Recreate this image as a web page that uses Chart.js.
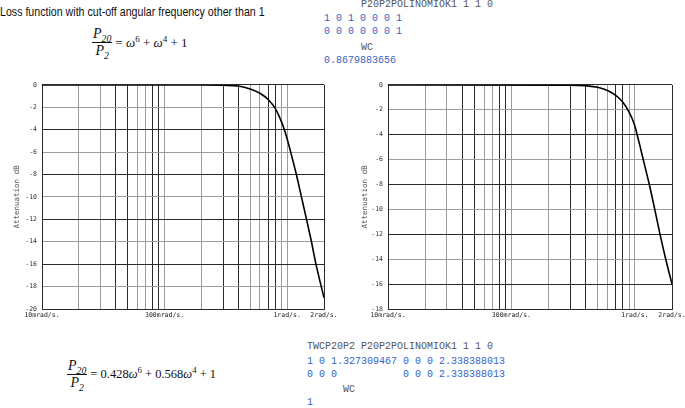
<!DOCTYPE html>
<html>
<head>
<meta charset="utf-8">
<script src="https://cdn.jsdelivr.net/npm/chart.js@4.4.1/dist/chart.umd.min.js"></script>
<style>
  html, body { margin: 0; padding: 0; background: #fff; }
  body { width: 685px; height: 408px; position: relative; overflow: hidden; }
  .abs { position: absolute; white-space: pre; }
  .title { font-family: "Liberation Sans", Arial, sans-serif; font-size: 13px; color: #111; left: 0; top: 4px; transform-origin: 0 0; }
  .mono { font-family: "Liberation Mono", "DejaVu Sans Mono", monospace; font-size: 10px; line-height: 12px; }
  .gray { color: #555; }
  .blue { color: #3a62c4; }
  .eq { font-family: "Liberation Serif", "Times New Roman", serif; font-size: 13px; color: #111; display: flex; align-items: center; white-space: nowrap; }
  .frac { display: inline-flex; flex-direction: column; align-items: center; font-style: italic; margin-right: 3px; font-size: 14px; }
  .frac .num { border-bottom: 1px solid #111; padding: 0 1px 1px; line-height: 14px; }
  .frac .den { padding-top: 1px; line-height: 14px; }
  sub, sup { font-size: 0.7em; line-height: 0; }
  .chart { position: absolute; top: 76px; width: 342px; height: 250px; }
</style>
</head>
<body>
<div class="abs title" id="title">Loss function with cut-off angular frequency other than 1</div>

<div class="abs eq" style="left:92px; top:27px;">
  <span class="frac"><span class="num">P<sub>20</sub></span><span class="den">P<sub>2</sub></span></span>
  <span>= <i>ω</i><sup>6</sup> + <i>ω</i><sup>4</sup> + 1</span>
</div>

<div class="abs mono gray" style="left:361px; top:-1px;">P20P2POLINOMIOK1 1 1 0</div>
<div class="abs mono blue" style="left:324px; top:13px;">1 0 1 0 0 0 1</div>
<div class="abs mono blue" style="left:324px; top:26px;">0 0 0 0 0 0 1</div>
<div class="abs mono gray" style="left:361px; top:42px;">WC</div>
<div class="abs mono blue" style="left:324px; top:55px;">0.8679883656</div>

<div class="chart" style="left:0;"><canvas id="leftChart"></canvas></div>
<div class="chart" style="left:343px;"><canvas id="rightChart"></canvas></div>

<div class="abs eq" style="left:67px; top:359px; font-size:12.5px;">
  <span class="frac"><span class="num">P<sub>20</sub></span><span class="den">P<sub>2</sub></span></span>
  <span>= 0.428<i>ω</i><sup>6</sup> + 0.568<i>ω</i><sup>4</sup> + 1</span>
</div>

<div class="abs mono gray" style="left:307px; top:341px;">TWCP20P2 P20P2POLINOMIOK1 1 1 0</div>
<div class="abs mono blue" style="left:307px; top:356px;">1 0 1.327309467 0 0 0 2.338388013</div>
<div class="abs mono blue" style="left:307px; top:369px;">0 0 0           0 0 0 2.338388013</div>
<div class="abs mono gray" style="left:307px; top:384px;">      WC</div>
<div class="abs mono blue" style="left:307px; top:397px;">1</div>

<script>
// ==============================
// DATA
// ==============================
const gridTicks = [0.01, 0.02, 0.03, 0.04, 0.05, 0.06, 0.07, 0.08, 0.09,
  0.1, 0.2, 0.3, 0.4, 0.5, 0.6, 0.7, 0.8, 0.9, 1, 2];
const labelAt = [0.01, 0.1, 1, 2];
const labelText = ["10mrad/s.", "300mrad/s.", "1rad/s.", "2rad/s."];

// left: P20/P2 = w^6 + w^4 + 1
const leftOmega = [0.01, 0.2, 0.3, 0.4, 0.5, 0.6, 0.7, 0.8, 0.9, 0.95, 1.0, 1.07, 1.19, 1.31, 1.44, 1.58, 1.72, 1.9, 2.0];
const leftDb = [0, 0, -0.03, -0.1, -0.36, -0.74, -1.3, -2.1, -3.3, -4.0, -4.8, -6, -8, -10, -12, -14, -16, -18, -19];

// right: P20/P2 = 0.428w^6 + 0.568w^4 + 1
const rightOmega = [0.01, 0.3, 0.4, 0.5, 0.6, 0.7, 0.8, 0.9, 0.95, 1.0, 1.05, 1.1, 1.17, 1.31, 1.45, 1.6, 1.78, 2.0];
const rightDb = [0, -0.02, -0.07, -0.19, -0.45, -0.85, -1.4, -2.2, -2.7, -3.3, -4.1, -4.9, -6, -8, -10, -12, -14, -16];

const DARK = "#2a2a2a";
const LIGHT = "#9d9d9d";

// titolo stretto come nell'originale (font narrow non disponibile)
const titleEl = document.getElementById("title");
titleEl.style.transform = "scaleX(" + (265 / titleEl.offsetWidth) + ")";

function makeChart(id, omega, db, yMin, axisWidth, padRight, titlePad) {
  const canvas = document.getElementById(id);
  const ctx = canvas.getContext("2d");

  return new Chart(ctx, {
    type: "line",
    data: {
      datasets: [{
        data: omega.map((w, i) => ({ x: w, y: db[i] })),
        borderColor: "#000",
        borderWidth: 1.6,
        pointRadius: 0,
        cubicInterpolationMode: "monotone",
        fill: false
      }]
    },
    options: {
      responsive: true,
      maintainAspectRatio: false,
      animation: false,
      layout: { padding: { top: 8, right: padRight, left: 0, bottom: 0 } },
      plugins: { legend: { display: false }, tooltip: { enabled: false } },
      scales: {
        x: {
          type: "logarithmic",
          min: 0.01,
          max: 2,
          afterBuildTicks: (scale) => { scale.ticks = gridTicks.map(v => ({ value: v })); },
          afterFit: (scale) => {
            scale.height = 17;
            scale.paddingLeft = 0;
            scale.paddingRight = 0;
          },
          border: { color: DARK },
          grid: {
            drawTicks: false,
            color: (c) => (c.index % 4 === 1 || c.index % 4 === 2) ? LIGHT : DARK,
            lineWidth: 1
          },
          ticks: {
            autoSkip: false,
            maxRotation: 0,
            padding: 2,
            color: "#222",
            font: { family: "DejaVu Sans Mono", size: 6.5 },
            callback: (v) => {
              const k = labelAt.indexOf(v);
              return k >= 0 ? labelText[k] : "";
            }
          }
        },
        y: {
          min: yMin,
          max: 0,
          afterFit: (scale) => { scale.width = axisWidth; },
          border: { color: DARK },
          grid: {
            drawTicks: false,
            color: (c) => (c.tick && c.tick.value % 4 === 0) ? DARK : LIGHT,
            lineWidth: 1
          },
          ticks: {
            stepSize: 2,
            padding: 5,
            color: "#333",
            font: { family: "DejaVu Sans Mono", size: 6.5 }
          },
          title: {
            display: true,
            text: "Attenuation dB",
            color: "#555",
            padding: { top: titlePad, bottom: 0 },
            font: { family: "DejaVu Sans Mono", size: 7.5 }
          }
        }
      }
    }
  });
}

makeChart("leftChart", leftOmega, leftDb, -20, 42, 18, 12.5);
makeChart("rightChart", rightOmega, rightDb, -18, 45, 13, 17.5);
</script>
</body>
</html>
